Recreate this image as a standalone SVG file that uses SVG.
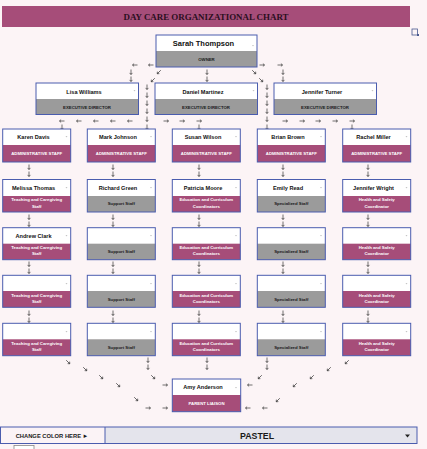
<svg xmlns="http://www.w3.org/2000/svg" xmlns:xlink="http://www.w3.org/1999/xlink" width="427" height="449" viewBox="0 0 427 449">
<style>
.bg{fill:#fcf4f6}
.top{fill:#ffffff}
.pu{fill:#a64d79}
.gr{fill:#9b9b9b}
.bd{fill:none;stroke:#4a5cae;stroke-width:1}
.nm{font-family:"Liberation Sans",Arial,sans-serif;font-weight:bold;font-size:5.6px;fill:#111;text-anchor:middle}
.nmL{font-family:"Liberation Sans",Arial,sans-serif;font-weight:bold;font-size:7.5px;fill:#111;text-anchor:middle}
.lw{font-family:"Liberation Sans",Arial,sans-serif;font-weight:bold;font-size:4.3px;fill:#ffffff;text-anchor:middle}
.ld{font-family:"Liberation Sans",Arial,sans-serif;font-weight:bold;font-size:4.3px;fill:#1a1a1a;text-anchor:middle}
.dd{fill:#c4c4c4}
.ar{fill:none;stroke:#333;stroke-width:0.7}
</style>
<defs>
<path id="a" d="M-2.5,0H2.5M0.9,-1.4L2.5,0L0.9,1.4"/>
</defs>
<rect class="bg" x="0" y="0" width="427" height="449"/>
<g id="title">
<rect x="2" y="6" width="408" height="21" fill="#a64d79"/>
<text x="206" y="19.5" font-family="Liberation Serif,'Times New Roman',serif" font-weight="bold" font-size="8.6" fill="#2b0f1e" text-anchor="middle" textLength="165" lengthAdjust="spacingAndGlyphs">DAY CARE ORGANIZATIONAL CHART</text>
</g>
<g id="icon">
<rect x="412" y="29" width="5.5" height="6" fill="none" stroke="#4a5a90" stroke-width="0.8"/>
<rect x="417" y="34" width="2" height="2" fill="#4a5a90"/>
</g>

<g id="connectors" class="ar">
<!-- owner to directors -->
<use xlink:href="#a" transform="translate(135,65) rotate(180)"/>
<use xlink:href="#a" transform="translate(151,65) rotate(180)"/>
<use xlink:href="#a" transform="translate(262,65)"/>
<use xlink:href="#a" transform="translate(280,65)"/>
<use xlink:href="#a" transform="translate(131,72) rotate(90)"/>
<use xlink:href="#a" transform="translate(159,72) rotate(135)"/>
<use xlink:href="#a" transform="translate(207,72) rotate(90)"/>
<use xlink:href="#a" transform="translate(254,72) rotate(45)"/>
<use xlink:href="#a" transform="translate(283,72) rotate(90)"/>
<use xlink:href="#a" transform="translate(131,79) rotate(90)"/>
<use xlink:href="#a" transform="translate(153,80) rotate(135)"/>
<use xlink:href="#a" transform="translate(207,79) rotate(90)"/>
<use xlink:href="#a" transform="translate(261,80) rotate(45)"/>
<use xlink:href="#a" transform="translate(283,79) rotate(90)"/>
<!-- vertical columns -->
<use xlink:href="#a" transform="translate(147,87) rotate(90)"/>
<use xlink:href="#a" transform="translate(147,95) rotate(90)"/>
<use xlink:href="#a" transform="translate(147,103) rotate(90)"/>
<use xlink:href="#a" transform="translate(147,111) rotate(90)"/>
<use xlink:href="#a" transform="translate(147,119) rotate(90)"/>
<use xlink:href="#a" transform="translate(147,127) rotate(90)"/>
<use xlink:href="#a" transform="translate(267,87) rotate(90)"/>
<use xlink:href="#a" transform="translate(267,95) rotate(90)"/>
<use xlink:href="#a" transform="translate(267,103) rotate(90)"/>
<use xlink:href="#a" transform="translate(267,111) rotate(90)"/>
<use xlink:href="#a" transform="translate(267,119) rotate(90)"/>
<use xlink:href="#a" transform="translate(267,127) rotate(90)"/>
<!-- directors to admin -->
<use xlink:href="#a" transform="translate(62,121) rotate(180)"/>
<use xlink:href="#a" transform="translate(79,121) rotate(180)"/>
<use xlink:href="#a" transform="translate(96,121) rotate(180)"/>
<use xlink:href="#a" transform="translate(113,121) rotate(180)"/>
<use xlink:href="#a" transform="translate(130,121) rotate(180)"/>
<use xlink:href="#a" transform="translate(166,121)"/>
<use xlink:href="#a" transform="translate(182,121)"/>
<use xlink:href="#a" transform="translate(199,121)"/>
<use xlink:href="#a" transform="translate(285,121)"/>
<use xlink:href="#a" transform="translate(302,121)"/>
<use xlink:href="#a" transform="translate(318,121)"/>
<use xlink:href="#a" transform="translate(335,121)"/>
<use xlink:href="#a" transform="translate(352,121)"/>
<use xlink:href="#a" transform="translate(62,127) rotate(90)"/>
<use xlink:href="#a" transform="translate(199,127) rotate(90)"/>
<use xlink:href="#a" transform="translate(352,127) rotate(90)"/>
<!-- column drops -->
<g id="drops">
<use xlink:href="#a" transform="translate(29,167) rotate(90)"/>
<use xlink:href="#a" transform="translate(29,174) rotate(90)"/>
<use xlink:href="#a" transform="translate(113,167) rotate(90)"/>
<use xlink:href="#a" transform="translate(113,174) rotate(90)"/>
<use xlink:href="#a" transform="translate(199,167) rotate(90)"/>
<use xlink:href="#a" transform="translate(199,174) rotate(90)"/>
<use xlink:href="#a" transform="translate(283,167) rotate(90)"/>
<use xlink:href="#a" transform="translate(283,174) rotate(90)"/>
<use xlink:href="#a" transform="translate(368,167) rotate(90)"/>
<use xlink:href="#a" transform="translate(368,174) rotate(90)"/>
</g>
<use xlink:href="#drops" transform="translate(0,50)"/>
<use xlink:href="#drops" transform="translate(0,97)"/>
<use xlink:href="#drops" transform="translate(0,146)"/>
<!-- to parent liaison -->
<use xlink:href="#a" transform="translate(68,362) rotate(45)"/>
<use xlink:href="#a" transform="translate(85,369) rotate(45)"/>
<use xlink:href="#a" transform="translate(101,377) rotate(45)"/>
<use xlink:href="#a" transform="translate(118,385) rotate(45)"/>
<use xlink:href="#a" transform="translate(136,399) rotate(45)"/>
<use xlink:href="#a" transform="translate(148,408)"/>
<use xlink:href="#a" transform="translate(165,408)"/>
<use xlink:href="#a" transform="translate(148,360) rotate(90)"/>
<use xlink:href="#a" transform="translate(148,367) rotate(90)"/>
<use xlink:href="#a" transform="translate(153,377) rotate(45)"/>
<use xlink:href="#a" transform="translate(165,385)"/>
<use xlink:href="#a" transform="translate(207,360) rotate(90)"/>
<use xlink:href="#a" transform="translate(207,367) rotate(90)"/>
<use xlink:href="#a" transform="translate(267,360) rotate(90)"/>
<use xlink:href="#a" transform="translate(267,367) rotate(90)"/>
<use xlink:href="#a" transform="translate(260,377) rotate(135)"/>
<use xlink:href="#a" transform="translate(250,385) rotate(180)"/>
<use xlink:href="#a" transform="translate(347,362) rotate(135)"/>
<use xlink:href="#a" transform="translate(329,369) rotate(135)"/>
<use xlink:href="#a" transform="translate(312,377) rotate(135)"/>
<use xlink:href="#a" transform="translate(295,385) rotate(135)"/>
<use xlink:href="#a" transform="translate(278,400) rotate(135)"/>
<use xlink:href="#a" transform="translate(265,408) rotate(180)"/>
<use xlink:href="#a" transform="translate(248,408) rotate(180)"/>
</g>

<!-- owner -->
<g id="owner">
<rect class="top" x="156" y="35" width="101" height="16"/>
<rect class="gr" x="156" y="51" width="101" height="16"/>
<rect class="bd" x="156" y="35" width="101" height="32"/>
<polygon class="dd" points="252,45 254,45 253,46.5"/>
<text class="nmL" x="203.5" y="46">Sarah Thompson</text>
<text class="ld" x="206.5" y="60.5">OWNER</text>
</g>
<!-- directors -->
<g id="lisa">
<rect class="top" x="36" y="83" width="102.5" height="16"/>
<rect class="gr" x="36" y="99" width="102.5" height="15.5"/>
<rect class="bd" x="36" y="83" width="102.5" height="31.5"/>
<polygon class="dd" points="133.5,90 135.5,90 134.5,91.5"/>
<text class="nm" x="84" y="93.5" font-size="6">Lisa Williams</text>
<text class="ld" x="87" y="108.5">EXECUTIVE DIRECTOR</text>
</g>
<g id="daniel">
<rect class="top" x="155" y="83" width="102.5" height="16"/>
<rect class="gr" x="155" y="99" width="102.5" height="15.5"/>
<rect class="bd" x="155" y="83" width="102.5" height="31.5"/>
<polygon class="dd" points="252.5,90 254.5,90 253.5,91.5"/>
<text class="nm" x="203" y="93.5" font-size="6">Daniel Martinez</text>
<text class="ld" x="206" y="108.5">EXECUTIVE DIRECTOR</text>
</g>
<g id="jennifer">
<rect class="top" x="274" y="83" width="102.5" height="16"/>
<rect class="gr" x="274" y="99" width="102.5" height="15.5"/>
<rect class="bd" x="274" y="83" width="102.5" height="31.5"/>
<polygon class="dd" points="371.5,90 373.5,90 372.5,91.5"/>
<text class="nm" x="322" y="93.5" font-size="6">Jennifer Turner</text>
<text class="ld" x="325" y="108.5">EXECUTIVE DIRECTOR</text>
</g>
<!-- admin row -->
<g id="karen">
<rect class="top" x="2.7" y="129" width="68" height="16"/>
<rect class="pu" x="2.7" y="145" width="68" height="17"/>
<rect class="bd" x="2.7" y="129" width="68" height="33"/>
<polygon class="dd" points="65.5,136 67.5,136 66.5,137.5"/>
<text class="nm" x="33.5" y="139">Karen Davis</text>
<text class="lw" x="36.7" y="155">ADMINISTRATIVE STAFF</text>
</g>
<g id="mark">
<rect class="top" x="87.3" y="129" width="68" height="16"/>
<rect class="pu" x="87.3" y="145" width="68" height="17"/>
<rect class="bd" x="87.3" y="129" width="68" height="33"/>
<polygon class="dd" points="150,136 152,136 151,137.5"/>
<text class="nm" x="118" y="139">Mark Johnson</text>
<text class="lw" x="121.3" y="155">ADMINISTRATIVE STAFF</text>
</g>
<g id="susan">
<rect class="top" x="172.3" y="129" width="68" height="16"/>
<rect class="pu" x="172.3" y="145" width="68" height="17"/>
<rect class="bd" x="172.3" y="129" width="68" height="33"/>
<polygon class="dd" points="235,136 237,136 236,137.5"/>
<text class="nm" x="203" y="139">Susan Wilson</text>
<text class="lw" x="206.3" y="155">ADMINISTRATIVE STAFF</text>
</g>
<g id="brian">
<rect class="top" x="257.3" y="129" width="68" height="16"/>
<rect class="pu" x="257.3" y="145" width="68" height="17"/>
<rect class="bd" x="257.3" y="129" width="68" height="33"/>
<polygon class="dd" points="320,136 322,136 321,137.5"/>
<text class="nm" x="288" y="139">Brian Brown</text>
<text class="lw" x="291.3" y="155">ADMINISTRATIVE STAFF</text>
</g>
<g id="rachel">
<rect class="top" x="342.7" y="129" width="68" height="16"/>
<rect class="pu" x="342.7" y="145" width="68" height="17"/>
<rect class="bd" x="342.7" y="129" width="68" height="33"/>
<polygon class="dd" points="405.5,136 407.5,136 406.5,137.5"/>
<text class="nm" x="373.5" y="139">Rachel Miller</text>
<text class="lw" x="376.7" y="155">ADMINISTRATIVE STAFF</text>
</g>

<!-- staff rows -->
<g id="c1r2">
<rect class="top" x="2.7" y="179.5" width="68" height="16.5"/>
<rect class="pu" x="2.7" y="196" width="68" height="16"/>
<rect class="bd" x="2.7" y="179.5" width="68" height="32.5"/>
<polygon class="dd" points="65.5,187 67.5,187 66.5,188.5"/>
<text class="nm" x="33.5" y="189.5">Melissa Thomas</text>
<text class="lw" x="36.7" y="201.3">Teaching and Caregiving</text>
<text class="lw" x="36.7" y="207.6">Staff</text>
</g>
<g id="c2r2">
<rect class="top" x="87.3" y="179.5" width="68" height="16.5"/>
<rect class="gr" x="87.3" y="196" width="68" height="16"/>
<rect class="bd" x="87.3" y="179.5" width="68" height="32.5"/>
<polygon class="dd" points="150,187 152,187 151,188.5"/>
<text class="nm" x="118" y="189.5">Richard Green</text>
<text class="ld" x="121.3" y="205.3">Support Staff</text>
</g>
<g id="c3r2">
<rect class="top" x="172.3" y="179.5" width="68" height="16.5"/>
<rect class="pu" x="172.3" y="196" width="68" height="16"/>
<rect class="bd" x="172.3" y="179.5" width="68" height="32.5"/>
<polygon class="dd" points="235,187 237,187 236,188.5"/>
<text class="nm" x="203" y="189.5">Patricia Moore</text>
<text class="lw" x="206.3" y="201.3">Education and Curriculum</text>
<text class="lw" x="206.3" y="207.6">Coordinators</text>
</g>
<g id="c4r2">
<rect class="top" x="257.3" y="179.5" width="68" height="16.5"/>
<rect class="gr" x="257.3" y="196" width="68" height="16"/>
<rect class="bd" x="257.3" y="179.5" width="68" height="32.5"/>
<polygon class="dd" points="320,187 322,187 321,188.5"/>
<text class="nm" x="288" y="189.5">Emily Read</text>
<text class="ld" x="291.3" y="205.3">Specialized Staff</text>
</g>
<g id="c5r2">
<rect class="top" x="342.7" y="179.5" width="68" height="16.5"/>
<rect class="pu" x="342.7" y="196" width="68" height="16"/>
<rect class="bd" x="342.7" y="179.5" width="68" height="32.5"/>
<polygon class="dd" points="405.5,187 407.5,187 406.5,188.5"/>
<text class="nm" x="373.5" y="189.5">Jennifer Wright</text>
<text class="lw" x="376.7" y="201.3">Health and Safety</text>
<text class="lw" x="376.7" y="207.6">Coordinator</text>
</g>

<g id="c1r3">
<rect class="top" x="2.7" y="227.7" width="68" height="16"/>
<rect class="pu" x="2.7" y="243.7" width="68" height="16"/>
<rect class="bd" x="2.7" y="227.7" width="68" height="32"/>
<polygon class="dd" points="65.5,235 67.5,235 66.5,236.5"/>
<text class="nm" x="33.5" y="237.5">Andrew Clark</text>
<text class="lw" x="36.7" y="249">Teaching and Caregiving</text>
<text class="lw" x="36.7" y="255.3">Staff</text>
</g>
<g id="c2r3">
<rect class="top" x="87.3" y="227.7" width="68" height="16"/>
<rect class="gr" x="87.3" y="243.7" width="68" height="16"/>
<rect class="bd" x="87.3" y="227.7" width="68" height="32"/>
<polygon class="dd" points="150,235 152,235 151,236.5"/>
<text class="ld" x="121.3" y="253">Support Staff</text>
</g>
<g id="c3r3">
<rect class="top" x="172.3" y="227.7" width="68" height="16"/>
<rect class="pu" x="172.3" y="243.7" width="68" height="16"/>
<rect class="bd" x="172.3" y="227.7" width="68" height="32"/>
<polygon class="dd" points="235,235 237,235 236,236.5"/>
<text class="lw" x="206.3" y="249">Education and Curriculum</text>
<text class="lw" x="206.3" y="255.3">Coordinators</text>
</g>
<g id="c4r3">
<rect class="top" x="257.3" y="227.7" width="68" height="16"/>
<rect class="gr" x="257.3" y="243.7" width="68" height="16"/>
<rect class="bd" x="257.3" y="227.7" width="68" height="32"/>
<polygon class="dd" points="320,235 322,235 321,236.5"/>
<text class="ld" x="291.3" y="253">Specialized Staff</text>
</g>
<g id="c5r3">
<rect class="top" x="342.7" y="227.7" width="68" height="16"/>
<rect class="pu" x="342.7" y="243.7" width="68" height="16"/>
<rect class="bd" x="342.7" y="227.7" width="68" height="32"/>
<polygon class="dd" points="405.5,235 407.5,235 406.5,236.5"/>
<text class="lw" x="376.7" y="249">Health and Safety</text>
<text class="lw" x="376.7" y="255.3">Coordinator</text>
</g>

<g id="c1r4">
<rect class="top" x="2.7" y="275.3" width="68" height="15.7"/>
<rect class="pu" x="2.7" y="291" width="68" height="16.3"/>
<rect class="bd" x="2.7" y="275.3" width="68" height="32"/>
<polygon class="dd" points="65.5,283 67.5,283 66.5,284.5"/>
<text class="lw" x="36.7" y="296.5">Teaching and Caregiving</text>
<text class="lw" x="36.7" y="302.8">Staff</text>
</g>
<g id="c2r4">
<rect class="top" x="87.3" y="275.3" width="68" height="15.7"/>
<rect class="gr" x="87.3" y="291" width="68" height="16.3"/>
<rect class="bd" x="87.3" y="275.3" width="68" height="32"/>
<polygon class="dd" points="150,283 152,283 151,284.5"/>
<text class="ld" x="121.3" y="300.5">Support Staff</text>
</g>
<g id="c3r4">
<rect class="top" x="172.3" y="275.3" width="68" height="15.7"/>
<rect class="pu" x="172.3" y="291" width="68" height="16.3"/>
<rect class="bd" x="172.3" y="275.3" width="68" height="32"/>
<polygon class="dd" points="235,283 237,283 236,284.5"/>
<text class="lw" x="206.3" y="296.5">Education and Curriculum</text>
<text class="lw" x="206.3" y="302.8">Coordinators</text>
</g>
<g id="c4r4">
<rect class="top" x="257.3" y="275.3" width="68" height="15.7"/>
<rect class="gr" x="257.3" y="291" width="68" height="16.3"/>
<rect class="bd" x="257.3" y="275.3" width="68" height="32"/>
<polygon class="dd" points="320,283 322,283 321,284.5"/>
<text class="ld" x="291.3" y="300.5">Specialized Staff</text>
</g>
<g id="c5r4">
<rect class="top" x="342.7" y="275.3" width="68" height="15.7"/>
<rect class="pu" x="342.7" y="291" width="68" height="16.3"/>
<rect class="bd" x="342.7" y="275.3" width="68" height="32"/>
<polygon class="dd" points="405.5,283 407.5,283 406.5,284.5"/>
<text class="lw" x="376.7" y="296.5">Health and Safety</text>
<text class="lw" x="376.7" y="302.8">Coordinator</text>
</g>

<g id="c1r5">
<rect class="top" x="2.7" y="323.3" width="68" height="16"/>
<rect class="pu" x="2.7" y="339.3" width="68" height="16.4"/>
<rect class="bd" x="2.7" y="323.3" width="68" height="32.4"/>
<polygon class="dd" points="65.5,331 67.5,331 66.5,332.5"/>
<text class="lw" x="36.7" y="344.8">Teaching and Caregiving</text>
<text class="lw" x="36.7" y="351.1">Staff</text>
</g>
<g id="c2r5">
<rect class="top" x="87.3" y="323.3" width="68" height="16"/>
<rect class="gr" x="87.3" y="339.3" width="68" height="16.4"/>
<rect class="bd" x="87.3" y="323.3" width="68" height="32.4"/>
<polygon class="dd" points="150,331 152,331 151,332.5"/>
<text class="ld" x="121.3" y="348.8">Support Staff</text>
</g>
<g id="c3r5">
<rect class="top" x="172.3" y="323.3" width="68" height="16"/>
<rect class="pu" x="172.3" y="339.3" width="68" height="16.4"/>
<rect class="bd" x="172.3" y="323.3" width="68" height="32.4"/>
<polygon class="dd" points="235,331 237,331 236,332.5"/>
<text class="lw" x="206.3" y="344.8">Education and Curriculum</text>
<text class="lw" x="206.3" y="351.1">Coordinators</text>
</g>
<g id="c4r5">
<rect class="top" x="257.3" y="323.3" width="68" height="16"/>
<rect class="gr" x="257.3" y="339.3" width="68" height="16.4"/>
<rect class="bd" x="257.3" y="323.3" width="68" height="32.4"/>
<polygon class="dd" points="320,331 322,331 321,332.5"/>
<text class="ld" x="291.3" y="348.8">Specialized Staff</text>
</g>
<g id="c5r5">
<rect class="top" x="342.7" y="323.3" width="68" height="16"/>
<rect class="pu" x="342.7" y="339.3" width="68" height="16.4"/>
<rect class="bd" x="342.7" y="323.3" width="68" height="32.4"/>
<polygon class="dd" points="405.5,331 407.5,331 406.5,332.5"/>
<text class="lw" x="376.7" y="344.8">Health and Safety</text>
<text class="lw" x="376.7" y="351.1">Coordinator</text>
</g>

<g id="amy">
<rect class="top" x="172.3" y="379" width="68.4" height="16"/>
<rect class="pu" x="172.3" y="395" width="68.4" height="16.7"/>
<rect class="bd" x="172.3" y="379" width="68.4" height="32.7"/>
<polygon class="dd" points="235,387 237,387 236,388.5"/>
<text class="nm" x="203" y="389">Amy Anderson</text>
<text class="lw" x="206.5" y="405">PARENT LIAISON</text>
</g>

<g id="colorbar">
<rect x="0.5" y="427" width="104.5" height="16.5" fill="#fbf3f6"/>
<rect x="105" y="427" width="312" height="16.5" fill="#e4e4ec"/>
<rect x="0.5" y="427" width="416.5" height="16.5" fill="none" stroke="#4a5cae" stroke-width="1"/>
<line x1="105" y1="427" x2="105" y2="443.5" stroke="#4a5cae" stroke-width="1"/>
<text x="52" y="437.5" font-family="Liberation Sans,Arial,sans-serif" font-weight="bold" font-size="5.8" fill="#1a1a1a" text-anchor="middle">CHANGE COLOR HERE ►</text>
<text x="257" y="439" font-family="Liberation Sans,Arial,sans-serif" font-weight="bold" font-size="8.8" fill="#1a1a1a" text-anchor="middle">PASTEL</text>
<polygon points="405,434.5 410,434.5 407.5,437.5" fill="#222"/>
</g>
<rect x="14" y="445.5" width="20" height="6" fill="#ffffff" stroke="#888" stroke-width="0.8"/>
</svg>
